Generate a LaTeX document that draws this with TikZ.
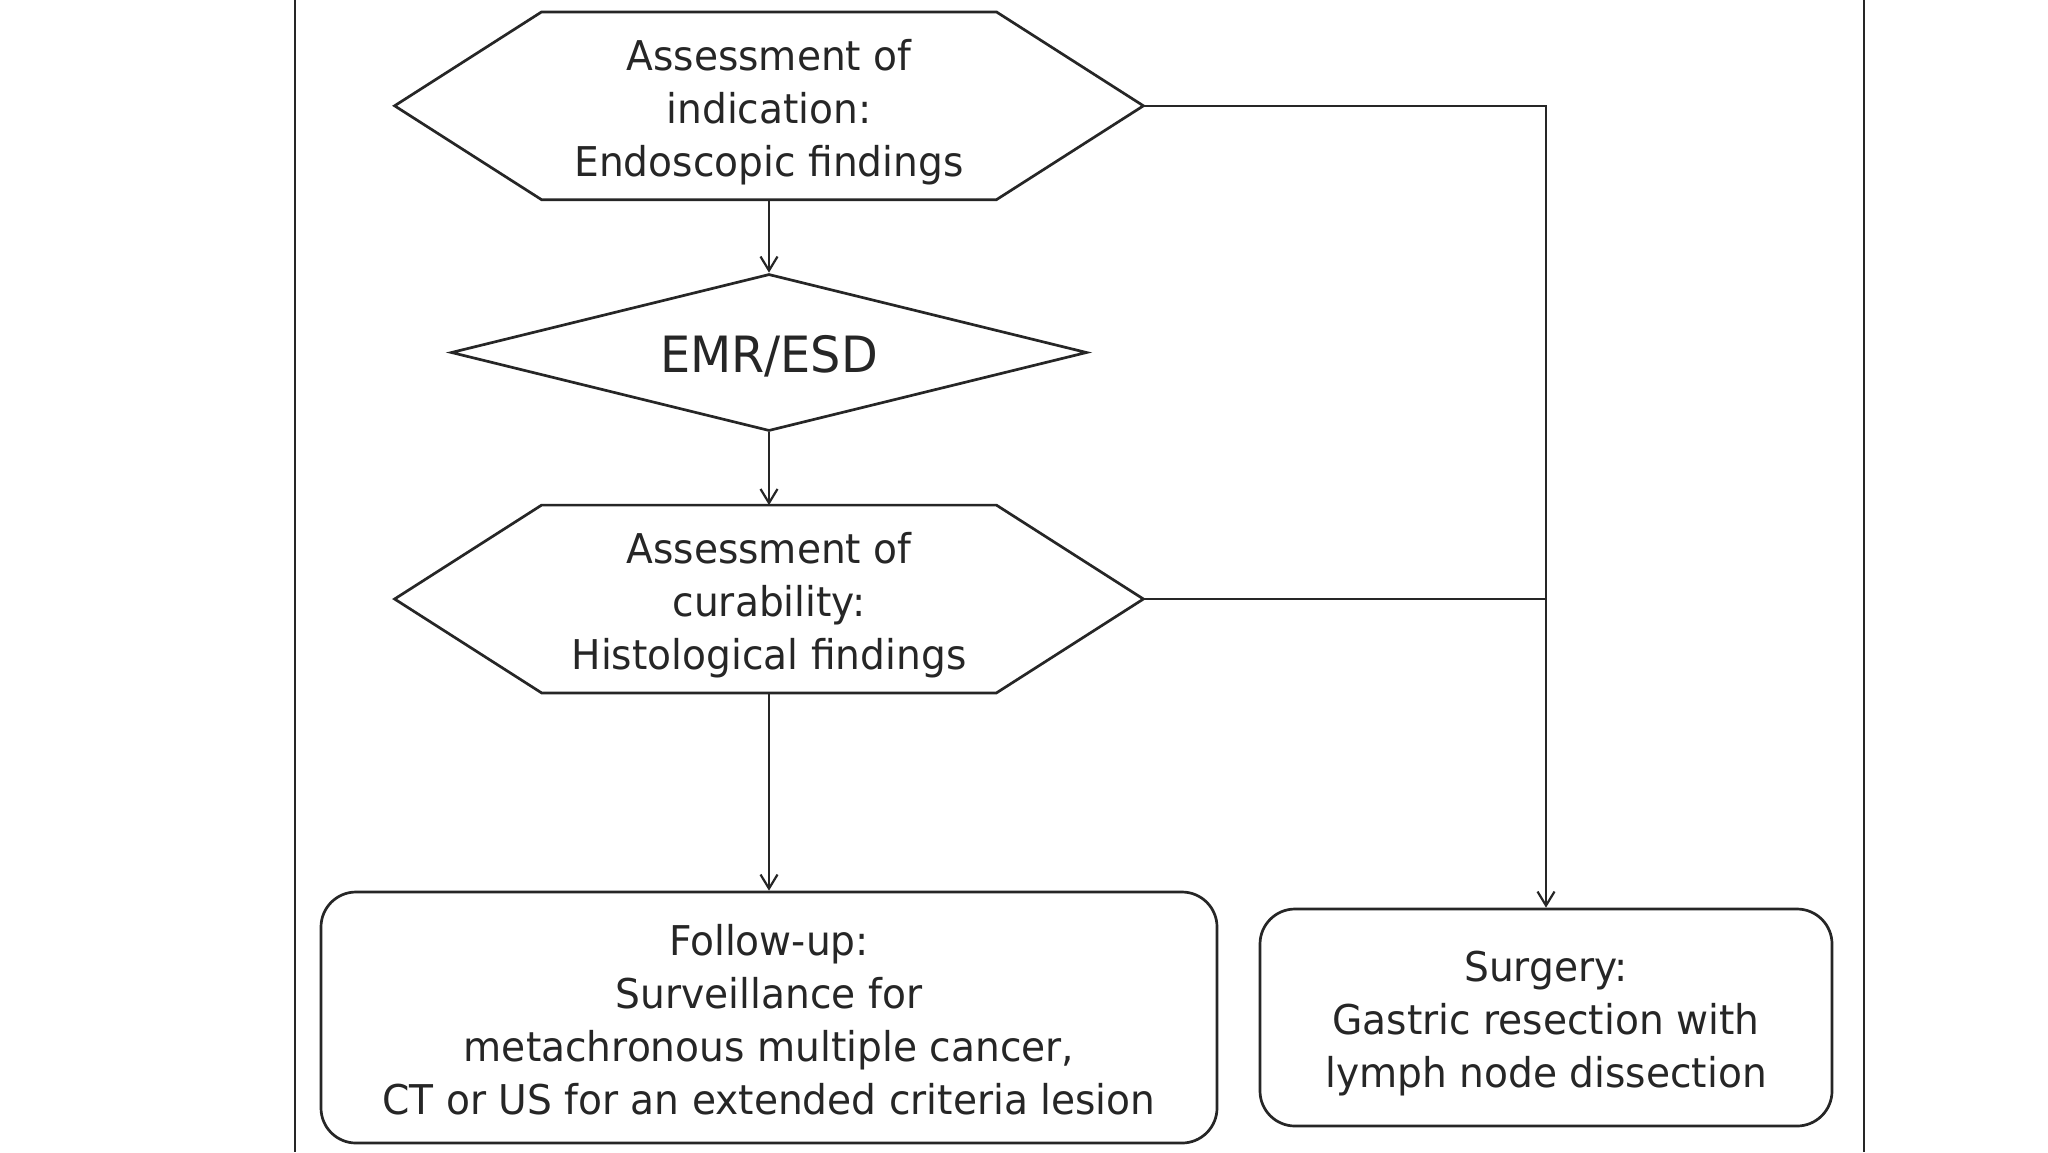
\documentclass[tikz,border=0pt]{standalone}
\usepackage{fontspec}
\setmainfont{DejaVu Sans}[FakeStretch=0.955]
\usetikzlibrary{shapes.geometric,arrows.meta}
\begin{document}
\begin{tikzpicture}[x=0.5pt,y=-0.5pt,
  ink/.style={black!85},
  outl/.style={draw=black!85, line width=1.35pt},
  conn/.style={draw=black!85, line width=1.2pt},
  arr/.style={conn, -{Straight Barb[length=7pt,width=8.5pt,line width=1.1pt]}},
  txt/.style={text=black!85, align=center, inner sep=0pt, font=\fontsize{20.5}{26.5}\selectfont},
  hexbox/.style={inner sep=0pt, minimum width=374pt, minimum height=93.5pt},
  diabox/.style={shape=diamond, outl, aspect=4, inner sep=0pt, minimum width=318pt, minimum height=78.5pt},
  endbox/.style={outl, inner sep=0pt, rounded corners=17.5pt}
]
\useasboundingbox[fill=white] (0,0) rectangle (2048,1152);
% frame lines
\draw[ink, line width=1.4pt] (295,0) -- (295,1152);
\draw[ink, line width=1.4pt] (1864,0) -- (1864,1152);

% shape nodes
\node[hexbox] (h1) at (769,105.8) {};
\node[diabox] (dia) at (769,352.5) {};
\node[hexbox] (h2) at (769,599) {};
\node[endbox, minimum width=448pt, minimum height=125.5pt] (fu) at (769,1017.5) {};
\node[endbox, minimum width=286pt, minimum height=108.5pt] (sg) at (1546,1017.5) {};

% hexagon outlines
\foreach \h in {h1,h2}{
  \draw[outl] (\h.west) -- ([xshift=73.5pt]\h.north west) -- ([xshift=-73.5pt]\h.north east)
    -- (\h.east) -- ([xshift=-73.5pt]\h.south east) -- ([xshift=73.5pt]\h.south west) -- cycle;
}

% texts
\node[txt] (h1t) at ([yshift=-3pt]h1.center) {Assessment of\\indication:\\Endoscopic findings};
\node[txt, font=\fontsize{25}{30}\selectfont] (diat) at ([yshift=-2pt]dia.center) {EMR/ESD};
\node[txt] (h2t) at ([yshift=-3pt]h2.center) {Assessment of\\curability:\\Histological findings};
\node[txt] (fut) at ([yshift=-1.2pt]fu.center)
  {Follow-up:\\Surveillance for\\metachronous multiple cancer,\\CT or US for an extended criteria lesion};
\node[txt] (sgt) at ([yshift=-3pt]sg.center)
  {Surgery:\\Gastric resection with\\lymph node dissection};

% connectors
\draw[arr] (h1.south) -- (dia.north);
\draw[arr] (dia.south) -- (h2.north);
\draw[arr] (h2.south) -- (fu.north);
\draw[arr] (h1.east) -| (sg.north);
\draw[conn] (h2.east) -- (h2.east -| sg.north);
\end{tikzpicture}
\end{document}
